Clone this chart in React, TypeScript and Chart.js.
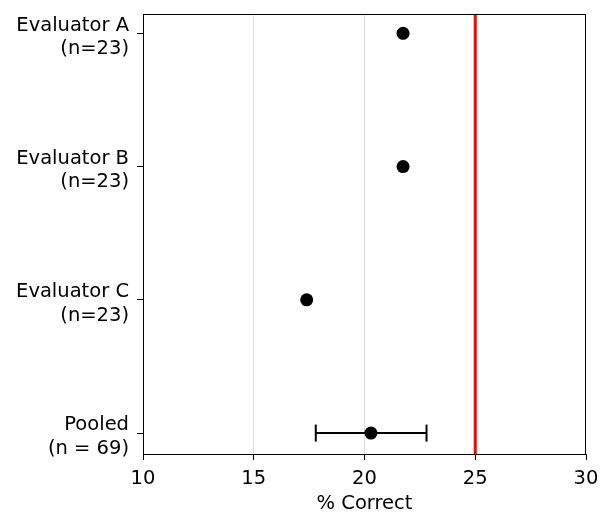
import React, { useEffect, useRef } from "react";
import { Chart, registerables } from "chart.js";

Chart.register(...registerables);

const categories: string[][] = [
  ["Evaluator A", "(n=23)"],
  ["Evaluator B", "(n=23)"],
  ["Evaluator C", "(n=23)"],
  ["Pooled", "(n = 69)"],
];
const pctCorrect: number[] = [21.74, 21.74, 17.39, 20.29];
const pooledCI: number[] = [17.8, 22.8];
const pooledIndex = 3;
const chanceLevel = 25;
const xTicks: number[] = [10, 15, 20, 25, 30];
const yMin = -0.145;
const yMax = 3.157;

const FONT = "'DejaVu Sans', sans-serif";

export default function App() {
  const ref = useRef<HTMLCanvasElement | null>(null);

  useEffect(() => {
    if (!ref.current) return;
    const borderPlugin = {
      id: "frame",
      afterDatasetsDraw(chart: any) {
        const { ctx, chartArea } = chart;
        ctx.save();
        ctx.strokeStyle = "#000";
        ctx.lineWidth = 1;
        ctx.beginPath();
        ctx.moveTo(chartArea.left, chartArea.top + 0.5);
        ctx.lineTo(chartArea.right, chartArea.top + 0.5);
        ctx.moveTo(chartArea.right - 0.5, chartArea.top);
        ctx.lineTo(chartArea.right - 0.5, chartArea.bottom);
        ctx.stroke();
        ctx.restore();
      },
    };
    const chart = new Chart(ref.current, {
      type: "scatter",
      data: {
        datasets: [
          {
            label: "% correct",
            data: pctCorrect.map((v, i) => ({ x: v, y: i })),
            pointRadius: 6.5,
            pointBackgroundColor: "#000",
            pointBorderWidth: 0,
            showLine: false,
          },
          {
            label: "CI",
            data: pooledCI.map((v) => ({ x: v, y: pooledIndex })),
            showLine: true,
            borderColor: "#000",
            borderWidth: 2,
            pointStyle: "line",
            pointRotation: 90,
            pointRadius: 8.5,
            pointBorderWidth: 2,
            pointBorderColor: "#000",
          },
          {
            label: "chance",
            data: [
              { x: chanceLevel, y: yMin },
              { x: chanceLevel, y: yMax },
            ],
            showLine: true,
            borderColor: "#ff0000",
            borderWidth: 3,
            pointRadius: 0,
          },
        ],
      },
      options: {
        animation: false,
        responsive: true,
        maintainAspectRatio: false,
        events: [],
        layout: { padding: { top: 14, right: 27, left: 0, bottom: 0 } },
        plugins: { legend: { display: false }, tooltip: { enabled: false } },
        scales: {
          x: {
            type: "linear",
            min: 10,
            max: 30,
            afterBuildTicks: (s: any) => {
              s.ticks = xTicks.map((v) => ({ value: v }));
            },
            afterFit: (s: any) => {
              s.height = 69;
              s.paddingLeft = 0;
              s.paddingRight = 0;
            },
            ticks: {
              color: "#000",
              font: { family: FONT, size: 19.5, lineHeight: 1.2 },
              padding: 7,
              maxRotation: 0,
            },
            grid: {
              color: (c: any) =>
                c.tick && (c.tick.value === 10 || c.tick.value === 30) ? "rgba(0,0,0,0)" : "#dcdcdc",
              lineWidth: 1,
              tickColor: "#000",
              tickLength: 6,
              tickWidth: 1,
            },
            border: { color: "#000", width: 1 },
            title: {
              display: true,
              text: "% Correct",
              color: "#000",
              font: { family: FONT, size: 19.5, lineHeight: 1.2 },
              padding: { top: 0, bottom: 7 },
            },
          },
          y: {
            type: "linear",
            reverse: true,
            min: yMin,
            max: yMax,
            afterBuildTicks: (s: any) => {
              s.ticks = categories.map((_, i) => ({ value: i }));
            },
            afterFit: (s: any) => {
              s.width = 143;
              s.paddingTop = 0;
              s.paddingBottom = 0;
            },
            ticks: {
              color: "#000",
              font: { family: FONT, size: 19.5, lineHeight: 1.2 },
              padding: 8,
              labelOffset: 4,
              callback: (v: any) => categories[v as number] ?? "",
            },
            grid: {
              drawOnChartArea: false,
              tickColor: "#000",
              tickLength: 6,
              tickWidth: 1,
            },
            border: { color: "#000", width: 1 },
          },
        },
      },
      plugins: [borderPlugin],
    });
    return () => chart.destroy();
  }, []);

  return (
    <div style={{ position: "absolute", left: 0, top: 0, width: 613, height: 523, background: "#fff" }}>
      <canvas ref={ref} />
    </div>
  );
}
